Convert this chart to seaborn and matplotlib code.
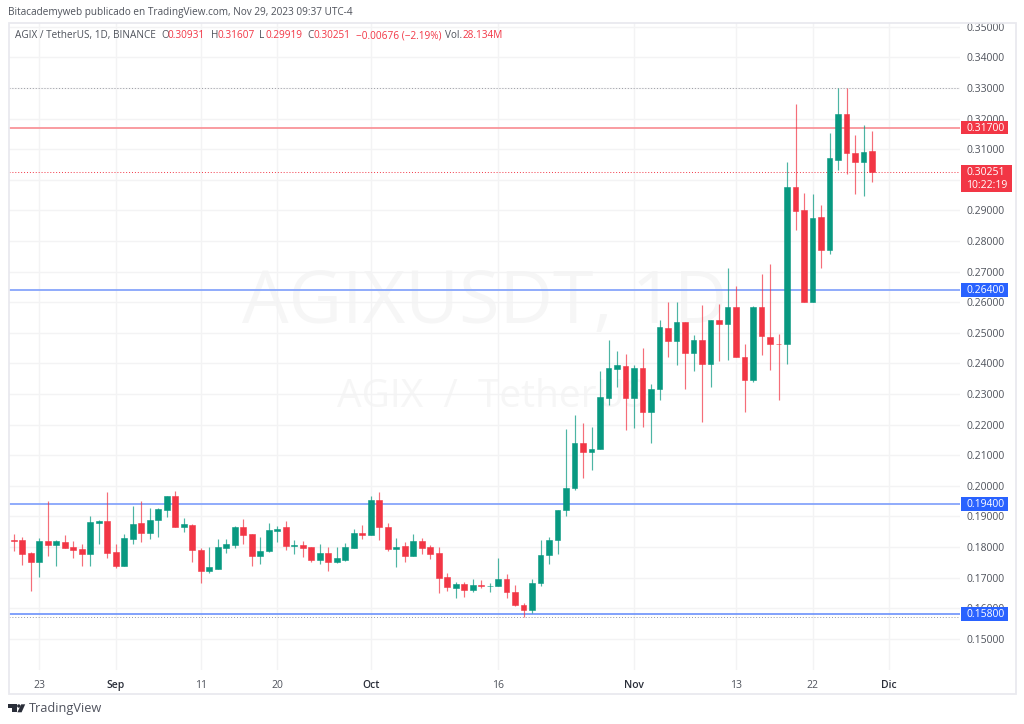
import numpy as np
import pandas as pd
import matplotlib
matplotlib.use("Agg")
import matplotlib.pyplot as plt
from matplotlib.patches import Rectangle, Polygon, Circle
from matplotlib.transforms import Affine2D, blended_transform_factory
import seaborn as sns

open_ = [.1824,.1822,.1779,.1750,.1820,.1805,.1815,.1799,.1793,.1778,
         .1880,.1884,.1783,.1737,.1827,.1878,.1845,.1887,.1920,.1967,
         .1864,.1872,.1791,.1720,.1729,.1797,.1808,.1864,.1841,.1770,
         .1786,.1853,.1864,.1802,.1808,.1799,.1759,.1779,.1752,.1758,
         .1797,.1847,.1839,.1955,.1866,.1795,.1804,.1772,.1818,.1801,
         .1779,.1701,.1665,.1679,.1658,.1676,.1671,.1671,.1696,.1654,
         .1612,.1593,.1682,.1774,.1822,.1921,.1994,.2140,.2111,.2120,
         .2287,.2382,.2391,.2287,.2384,.2241,.2315,.2517,.2474,.2536,
         .2435,.2475,.2399,.2542,.2529,.2584,.2420,.2346,.2584,.2487,
         .2464,.2462,.2978,.2901,.2600,.2880,.2770,.3065,.3215,.3089,
         .3057,.30931]
close = [.1820,.1778,.1750,.1818,.1805,.1820,.1797,.1791,.1778,.1882,
         .1884,.1780,.1737,.1829,.1875,.1845,.1889,.1923,.1967,.1865,
         .1875,.1789,.1720,.1735,.1800,.1811,.1864,.1839,.1770,.1788,
         .1855,.1860,.1803,.1808,.1798,.1759,.1779,.1752,.1763,.1799,
         .1847,.1840,.1953,.1864,.1795,.1801,.1770,.1818,.1798,.1777,
         .1699,.1670,.1679,.1658,.1676,.1671,.1673,.1696,.1652,.1610,
         .1593,.1682,.1774,.1824,.1922,.1994,.2140,.2111,.2121,.2289,
         .2386,.2395,.2287,.2384,.2241,.2315,.2520,.2474,.2536,.2435,
         .2475,.2399,.2543,.2529,.2584,.2421,.2346,.2585,.2489,.2462,
         .2462,.2978,.2899,.2600,.2876,.2770,.3070,.3215,.3088,.3057,
         .3092,.30251]
high = [.1843,.1833,.1785,.1829,.1950,.1822,.1840,.1818,.1809,.1900,
        .1889,.1980,.1811,.1843,.1935,.1950,.1928,.1927,.1967,.1984,
        .1895,.1875,.1796,.1800,.1827,.1826,.1868,.1891,.1842,.1833,
        .1878,.1870,.1886,.1824,.1820,.1800,.1811,.1800,.1800,.1813,
        .1859,.1872,.1967,.1980,.1878,.1829,.1817,.1841,.1829,.1807,
        .1800,.1715,.1687,.1685,.1696,.1692,.1683,.1763,.1713,.1676,
        .1617,.1696,.1822,.1832,.1922,.2185,.2230,.2205,.2191,.2374,
        .2478,.2442,.2430,.2395,.2449,.2332,.2541,.2599,.2599,.2536,
        .2492,.2590,.2543,.2593,.2711,.2654,.2465,.2587,.2692,.2724,
        .2496,.3058,.3247,.2957,.2953,.2919,.3154,.3300,.3300,.3145,
        .3179,.31607]
low = [.1786,.1740,.1655,.1701,.1772,.1738,.1797,.1763,.1739,.1738,
       .1809,.1763,.1730,.1737,.1811,.1815,.1825,.1834,.1897,.1865,
       .1849,.1750,.1683,.1714,.1729,.1780,.1798,.1811,.1739,.1743,
       .1783,.1816,.1791,.1777,.1768,.1752,.1743,.1722,.1747,.1755,
       .1797,.1827,.1839,.1822,.1786,.1733,.1750,.1772,.1778,.1761,
       .1649,.1655,.1632,.1635,.1652,.1665,.1652,.1671,.1633,.1607,
       .1571,.1585,.1672,.1746,.1777,.1902,.1985,.2027,.2051,.2120,
       .2264,.2323,.2183,.2188,.2191,.2141,.2280,.2420,.2395,.2317,
       .2376,.2210,.2323,.2409,.2410,.2421,.2241,.2338,.2426,.2378,
       .2280,.2398,.2836,.2600,.2600,.2712,.2757,.3031,.3020,.2953,
       .2947,.29919]

price_ticks = [.15,.16,.17,.18,.19,.20,.21,.22,.23,.24,.25,.26,.27,.28,.29,.30,.31,.32,.33,.34,.35]
date_ticks = [3, 12, 22, 31, 42, 57, 73, 85, 94, 103]
date_labels = ["23", "Sep", "11", "20", "Oct", "16", "Nov", "13", "22", "Dic"]
month_labels = ["Sep", "Oct", "Nov", "Dic"]

blue_levels = [0.264, 0.194, 0.158]
red_level = 0.317
last_price = 0.30251
high_mark = 0.33
low_mark = 0.1571

GREEN, RED, BLUE = "#089981", "#F23645", "#2962FF"
GREY_TXT = "#4f535c"

sns.set_theme(style="white")
plt.rcParams["font.family"] = ["Open Sans", "DejaVu Sans"]

W, H = 1024, 724
fig = plt.figure(figsize=(W/100, H/100), dpi=100, facecolor="white")
L, R, T, B = 8.5, 960.0, 23.0, 670.0
ax = fig.add_axes([L/W, 1-B/H, (R-L)/W, (B-T)/H])
px = Affine2D().scale(1/W, -1/H).translate(0, 1) + fig.transFigure

df = pd.DataFrame({"day": np.arange(len(open_)), "o": open_, "h": high, "l": low, "c": close})
df["bottom"] = df[["o", "c"]].min(axis=1)
df["body"] = (df["c"] - df["o"]).abs()
up = df[df["c"] >= df["o"]]
down = df[df["c"] < df["o"]]

ax.set_axisbelow(True)
for sub, col in ((up, GREEN), (down, RED)):
    ax.vlines(sub["day"], sub["l"], sub["h"], color=col, lw=0.85, alpha=0.72, zorder=2)
    sns.barplot(data=sub, x="day", y="body", bottom=sub["bottom"].to_numpy(), color=col,
                saturation=1, native_scale=True, width=0.68, errorbar=None,
                linewidth=0.4, edgecolor=col, zorder=3, ax=ax)

ax.set_xlim(-0.612, 111.35)
ax.set_ylim(0.1398, 0.35124)
ax.set_xlabel(""); ax.set_ylabel("")
ax.set_xticks(date_ticks, date_labels)
ax.set_yticks(price_ticks, [f"{v:.5f}" for v in price_ticks])
ax.yaxis.tick_right()
ax.tick_params(axis="both", length=0, labelsize=7.5, colors=GREY_TXT)
ax.tick_params(axis="y", pad=5)
ax.tick_params(axis="x", pad=7)
for lab in ax.get_xticklabels():
    if lab.get_text() in month_labels:
        lab.set_fontweight("semibold")
        lab.set_color("#2a2e39")
ax.grid(True, color="#f3f3f4", lw=1.0)
for s in ax.spines.values():
    s.set_visible(False)

# watermark
ax.text(485, 304, "AGIXUSDT, 1D", transform=px, ha="center", va="center", fontsize=53,
        color="#f6f6f6", zorder=0.1)
ax.text(337, 397, "AGIX  /  TetherUS", transform=px, ha="left", va="center", fontsize=28,
        color="#f6f6f6", zorder=0.1)

# levels
for lv in blue_levels:
    ax.axhline(lv, color="#8fabfb" if lv != 0.158 else "#5f88fb", lw=1.4 if lv != 0.158 else 1.1, zorder=1.5)
ax.axhline(red_level, color="#f9949a", lw=1.3, zorder=1.5)
ax.axhline(high_mark, color="#9a9ca3", lw=0.7, ls=(0, (1, 2)), zorder=1.5)
ax.axhline(low_mark, color="#9a9ca3", lw=0.7, ls=(0, (1, 2)), zorder=1.5)
ax.axhline(last_price, color=RED, lw=0.7, ls=(0, (1, 2)), zorder=1.5)

# price tags
tr = blended_transform_factory(ax.transAxes, ax.transData)
per_px_x = 1/(R-L)
per_px_y = (0.35124-0.1398)/(B-T)
def tag(price, text, colour, h=14, w=47):
    ax.add_patch(Rectangle((1+0.7*per_px_x, price-h/2*per_px_y), w*per_px_x, h*per_px_y,
                           transform=tr, fc=colour, ec="none", clip_on=False, zorder=5))
    ax.text(1+6.5*per_px_x, price-0.6*per_px_y, text, transform=tr, color="white", fontsize=7.5,
            va="center", ha="left", zorder=6, clip_on=False)
for lv in blue_levels:
    tag(lv, f"{lv:.5f}", BLUE)
tag(red_level, f"{red_level:.5f}", RED, h=13)
ax.add_patch(Rectangle((1+0.7*per_px_x, last_price-19.5*per_px_y), 51*per_px_x, 26.5*per_px_y,
                       transform=tr, fc=RED, ec="none", clip_on=False, zorder=5))
ax.text(1+6.5*per_px_x, last_price-0.6*per_px_y, f"{last_price:.5f}", transform=tr, color="white",
        fontsize=7.5, va="center", zorder=6, clip_on=False)
ax.text(1+6.5*per_px_x, last_price-13.4*per_px_y, "10:22:19", transform=tr, color="white",
        fontsize=7.5, va="center", zorder=6, clip_on=False)

# frame
fig.add_artist(Rectangle((8.5, 23), 1007, 671, transform=px, fc="none", ec="#e9e9ef", lw=1.3))

# header + legend
fig.text(8, 12, "Bitacademyweb publicado en TradingView.com, Nov 29, 2023 09:37 UTC-4",
         transform=px, color=GREY_TXT, fontsize=7.17, va="center")
legend_bits = [(15, "AGIX / TetherUS, 1D, BINANCE", GREY_TXT), (161, "O", GREY_TXT), (168, "0.30931", RED),
               (211, "H", GREY_TXT), (217, "0.31607", RED), (259, "L", GREY_TXT), (266, "0.29919", RED),
               (307, "C", GREY_TXT), (314, "0.30251", RED), (356, "\u22120.00676 (\u22122.19%)", RED),
               (445, "Vol.", GREY_TXT), (463, "28.134M", RED)]
for x, s, col in legend_bits:
    fig.text(x, 35.5, s, transform=px, color=col, fontsize=7.2, va="center")

# footer logo
LOGO = "#2a2e39"
fig.add_artist(Polygon([(8.3,704.3),(16.5,704.3),(16.5,712.3),(12,712.3),(12,707.6),(8.3,707.6)],
                       closed=True, transform=px, fc=LOGO, ec="none"))
fig.add_artist(Circle((18.8, 706), 1.7, transform=px, fc=LOGO, ec="none"))
fig.add_artist(Polygon([(21.2,704.3),(25.2,704.3),(21.6,712.3),(17.4,712.3)],
                       closed=True, transform=px, fc=LOGO, ec="none"))
fig.text(29, 708.5, "TradingView", transform=px, color="#50535e", fontsize=9.2, va="center")

fig.savefig("out.png", dpi=100, facecolor="white")
